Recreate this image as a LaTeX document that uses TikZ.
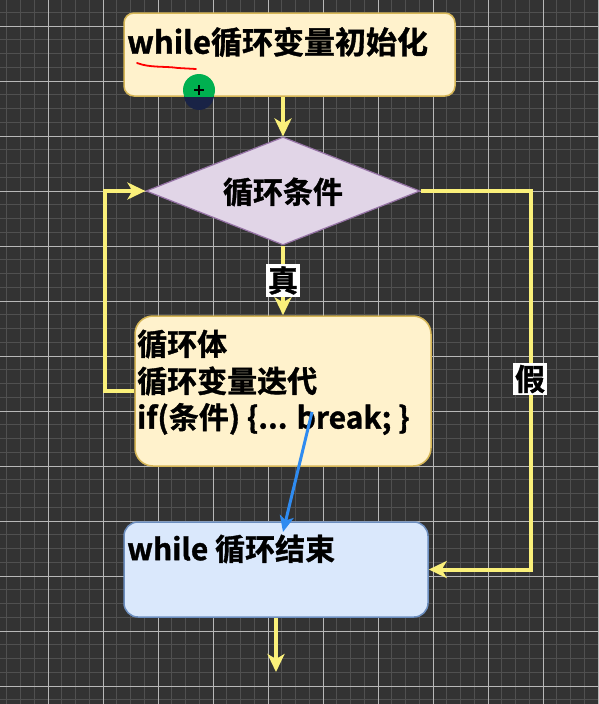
\documentclass[tikz,border=0pt]{standalone}
\usepackage{fontspec}
\setmainfont{Noto Sans CJK SC}[BoldFont={Noto Sans CJK SC Bold},BoldFeatures={FakeBold=1.2}]
\usetikzlibrary{shapes.geometric,arrows.meta,calc}
\definecolor{bgc}{HTML}{333333}
\definecolor{minorc}{HTML}{505050}
\definecolor{majorc}{HTML}{B8B8B8}
\definecolor{yfill}{HTML}{FFF2CC}
\definecolor{ydraw}{HTML}{D6B656}
\definecolor{pfill}{HTML}{E1D5E7}
\definecolor{pdraw}{HTML}{9673A6}
\definecolor{bfill}{HTML}{DAE8FC}
\definecolor{bdraw}{HTML}{6C8EBF}
\definecolor{yline}{HTML}{FAF07A}
\definecolor{blueline}{HTML}{2F8BF0}
\tikzset{
  ybox/.style={draw=ydraw,fill=yfill,line width=1.5pt,inner sep=0pt},
  bbox/.style={draw=bdraw,fill=bfill,line width=1.5pt,inner sep=0pt},
  txt/.style={font=\bfseries\fontsize{30}{37}\selectfont,text=black,inner sep=0pt,anchor=west},
  ya/.style={draw=yline,line width=4pt,-{Stealth[length=18pt,width=17pt,inset=5pt]}},
  lab/.style={fill=white,font=\bfseries\fontsize{30}{34}\selectfont,inner sep=2pt,text=black}
}
\begin{document}
\begin{tikzpicture}[x=1pt,y=-1pt]
\useasboundingbox (0,0) rectangle (599,704);
\fill[bgc] (0,0) rectangle (599,704);
% minor grid
\foreach \i in {0,...,44} {
  \draw[minorc,line width=1pt] ({6.75+13.75*\i},0) -- ({6.75+13.75*\i},704);
}
\foreach \i in {0,...,51} {
  \draw[minorc,line width=1pt] (0,{12.25+13.75*\i}) -- (599,{12.25+13.75*\i});
}
% major grid
\foreach \i in {0,...,10} {
  \draw[majorc,line width=1pt] ({48+55*\i},0) -- ({48+55*\i},704);
}
\foreach \i in {0,...,12} {
  \draw[majorc,line width=1pt] (0,{26+55*\i}) -- (599,{26+55*\i});
}
% shapes
\node[ybox,rounded corners=10pt,minimum width=331pt,minimum height=83pt] (top) at (289.5,54.5) {};
\node[txt,font=\bfseries\fontsize{31}{37}\selectfont] (toptxt) at (127,42) {while循环变量初始化};
\node[diamond,draw=pdraw,fill=pfill,line width=1.2pt,inner sep=0pt,minimum width=274pt,minimum height=108pt] (dia) at (283,191) {};
\node[font=\bfseries\fontsize{30}{34}\selectfont] (diatxt) at (283,192) {循环条件};
\node[ybox,rounded corners=18pt,minimum width=296pt,minimum height=150pt] (body) at (283,391) {};
\node[txt] (b1) at (137,344) {循环体};
\node[txt] (b2) at (137,381) {循环变量迭代};
\node[txt] (b3) at (137,419) {if(条件) \{... break; \}};
\node[bbox,rounded corners=14pt,minimum width=304pt,minimum height=95pt] (end) at (276,569.5) {};
\node[txt] (endtxt) at (127,549) {while 循环结束};
% connectors
\draw[ya] (dia.north |- top.south) -- (dia.north);
\draw[ya] (dia.south) -- node[lab] (zhen) {真} (body.north);
\draw[ya] (body.west) -- ++(-29,0) |- (dia.west);
\draw[ya] (dia.east) -- ++(110,0) |- (end.east);
\node[lab] (jia) at (530,379) {假};
\coordinate (bend) at (276,672);
\draw[ya] (end.south) -- (bend);
\coordinate (bstart) at (312,412);
\coordinate (bstop) at (283,532);
\draw[blueline,line width=3pt,-{Stealth[length=16pt,width=14pt,inset=4pt]}] (bstart) -- (bstop);
% annotations: red squiggle and cursor
\draw[red,line width=1.8pt,line cap=round] (137,63) .. controls (150,68) and (165,66) .. (178,68) -- (196,69);
\fill[fill={rgb,255:red,25;green,35;blue,70}] (199,95) circle (15);
\begin{scope}
\clip (150,40) rectangle (250,96);
\fill[fill={rgb,255:red,0;green,176;blue,80}] (199,90) circle (16);
\end{scope}
\draw[black,line width=1.5pt] (194,90) -- (204,90) (199,85) -- (199,95);
\end{tikzpicture}
\end{document}
